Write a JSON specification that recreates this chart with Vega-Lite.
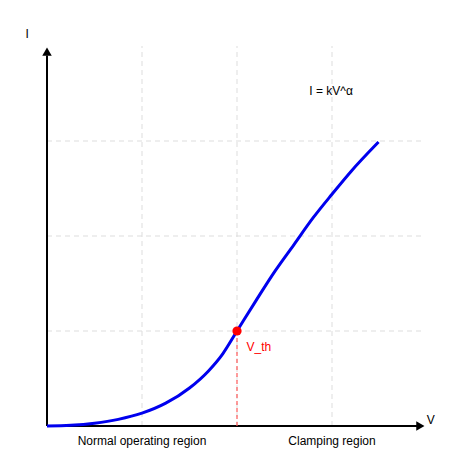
{
  "$schema": "https://vega.github.io/schema/vega-lite/v6.json",
  "width": 380,
  "height": 380,
  "autosize": {"type": "none"},
  "padding": {"left": 47, "top": 46, "right": 47, "bottom": 48},
  "background": "white",
  "config": {"view": {"stroke": null}, "text": {"font": "Liberation Sans", "fontSize": 12}},
  "datasets": {
    "vgrid": [{"v": 1}, {"v": 2}, {"v": 3}],
    "curve": [
      {"V": 0, "I": 0},
      {"V": 0.25, "I": 0.008},
      {"V": 0.5, "I": 0.03},
      {"V": 0.75, "I": 0.07},
      {"V": 1.0, "I": 0.135},
      {"V": 1.25, "I": 0.24},
      {"V": 1.5, "I": 0.4},
      {"V": 1.7, "I": 0.58},
      {"V": 1.85, "I": 0.76},
      {"V": 2.0, "I": 1.0},
      {"V": 2.2, "I": 1.32},
      {"V": 2.4, "I": 1.63},
      {"V": 2.6, "I": 1.91},
      {"V": 2.8, "I": 2.19},
      {"V": 3.0, "I": 2.44},
      {"V": 3.2, "I": 2.68},
      {"V": 3.49, "I": 2.99}
    ],
    "labels": [
      {"x": -0.21, "y": 4.13, "t": "I", "c": "black", "a": "center"},
      {"x": 4.04, "y": 0.06, "t": "V", "c": "black", "a": "left"},
      {"x": 2.99, "y": 3.53, "t": "I = kV^α", "c": "black", "a": "center"},
      {"x": 1.0, "y": -0.16, "t": "Normal operating region", "c": "black", "a": "center"},
      {"x": 3.0, "y": -0.16, "t": "Clamping region", "c": "black", "a": "center"}
    ]
  },
  "layer": [
    {
      "data": {"name": "vgrid"},
      "mark": {"type": "rule", "color": "#dddddd", "strokeDash": [5, 4], "strokeWidth": 1},
      "encoding": {
        "x": {"field": "v", "type": "quantitative", "scale": {"domain": [0, 4], "nice": false}, "axis": null},
        "y": {"datum": 0, "type": "quantitative", "scale": {"domain": [0, 4], "nice": false}, "axis": null},
        "y2": {"datum": 4}
      }
    },
    {
      "data": {"name": "vgrid"},
      "mark": {"type": "rule", "color": "#dddddd", "strokeDash": [5, 4], "strokeWidth": 1},
      "encoding": {
        "y": {"field": "v", "type": "quantitative"},
        "x": {"datum": 0, "type": "quantitative"},
        "x2": {"datum": 3.95}
      }
    },
    {
      "data": {"values": [{"a": 1}]},
      "mark": {"type": "rule", "color": "black", "strokeWidth": 2},
      "encoding": {"x": {"datum": 0, "type": "quantitative"}, "y": {"datum": 0, "type": "quantitative"}, "y2": {"datum": 3.9}}
    },
    {
      "data": {"values": [{"a": 1}]},
      "mark": {"type": "rule", "color": "black", "strokeWidth": 2},
      "encoding": {"y": {"datum": 0, "type": "quantitative"}, "x": {"datum": 0, "type": "quantitative"}, "x2": {"datum": 3.9}}
    },
    {
      "data": {"values": [{"a": 1}]},
      "mark": {"type": "point", "shape": "triangle-up", "filled": true, "color": "black", "size": 90, "opacity": 1},
      "encoding": {"x": {"datum": 0, "type": "quantitative"}, "y": {"datum": 3.94, "type": "quantitative"}}
    },
    {
      "data": {"values": [{"a": 1}]},
      "mark": {"type": "point", "shape": "triangle-right", "filled": true, "color": "black", "size": 90, "opacity": 1},
      "encoding": {"x": {"datum": 3.93, "type": "quantitative"}, "y": {"datum": 0, "type": "quantitative"}}
    },
    {
      "data": {"values": [{"a": 1}]},
      "mark": {"type": "rule", "color": "#ff5a5a", "strokeDash": [4, 3], "strokeWidth": 1.2},
      "encoding": {"x": {"datum": 2, "type": "quantitative"}, "y": {"datum": 0, "type": "quantitative"}, "y2": {"datum": 1}}
    },
    {
      "data": {"name": "curve"},
      "mark": {"type": "line", "color": "#0000ee", "strokeWidth": 3, "interpolate": "monotone"},
      "encoding": {"x": {"field": "V", "type": "quantitative"}, "y": {"field": "I", "type": "quantitative"}}
    },
    {
      "data": {"values": [{"V": 2, "I": 1}]},
      "mark": {"type": "point", "filled": true, "color": "#ff0000", "size": 85, "opacity": 1},
      "encoding": {"x": {"field": "V", "type": "quantitative"}, "y": {"field": "I", "type": "quantitative"}}
    },
    {
      "data": {"values": [{"x": 2.1, "y": 0.83, "t": "V_th"}]},
      "mark": {"type": "text", "color": "#ff0000", "align": "left", "baseline": "middle"},
      "encoding": {"x": {"field": "x", "type": "quantitative"}, "y": {"field": "y", "type": "quantitative"}, "text": {"field": "t"}}
    },
    {
      "data": {"name": "labels"},
      "mark": {"type": "text", "baseline": "middle"},
      "encoding": {
        "x": {"field": "x", "type": "quantitative"},
        "y": {"field": "y", "type": "quantitative"},
        "text": {"field": "t"},
        "align": {"field": "a", "type": "nominal", "scale": null},
        "color": {"field": "c", "type": "nominal", "scale": null}
      }
    }
  ]
}
